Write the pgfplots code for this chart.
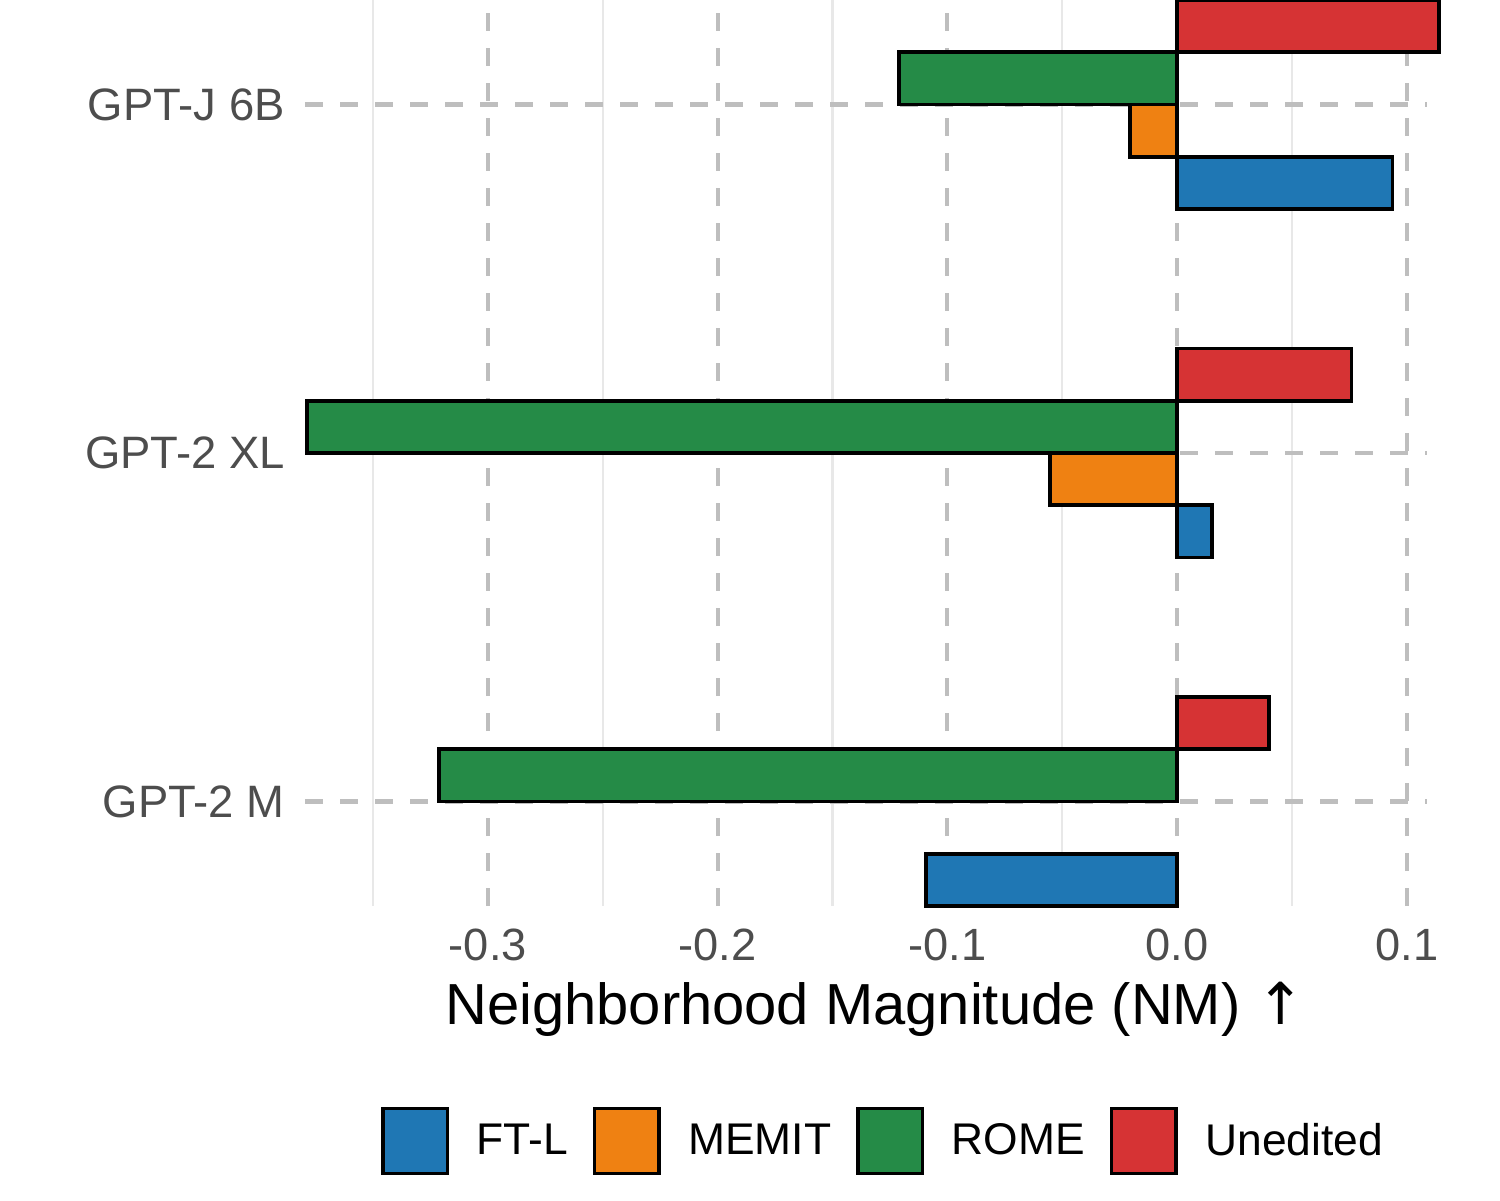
\documentclass[border=0pt]{standalone}
\usepackage{pgfplots}
\pgfplotsset{compat=1.18}
\usepackage{fontspec}
\setmainfont{Liberation Sans}
\newfontfamily\symfont{DejaVu Sans}
\definecolor{cFT}{HTML}{1F77B4}
\definecolor{cME}{HTML}{EF8112}
\definecolor{cRO}{HTML}{258B47}
\definecolor{cUN}{HTML}{D63334}
\definecolor{tickgray}{HTML}{4D4D4D}
\definecolor{majgrid}{HTML}{BEBEBE}
\definecolor{mingrid}{HTML}{E8E8E8}
\begin{document}
\begin{tikzpicture}
\useasboundingbox (0,0) rectangle (720pt,576pt);
\begin{axis}[
  at={(146.4pt,141.12pt)}, anchor=south west,
  scale only axis, width=538.56pt, height=434.88pt,
  xmin=-0.3796, xmax=0.1088, ymin=0.7, ymax=3.3,
  clip=false,
  xbar, bar width=0.15,
  axis line style={draw=none},
  major tick length=0pt, minor tick length=0pt,
  tick style={draw=none},
  xtick={-0.3,-0.2,-0.1,0,0.1},
  xticklabels={-0.3,-0.2,-0.1,0.0,0.1},
  minor xtick={-0.35,-0.25,-0.15,-0.05,0.05},
  ytick={1,2,3},
  yticklabels={GPT-2 M,GPT-2 XL,GPT-J 6B},
  xmajorgrids, xminorgrids, ymajorgrids,
  major grid style={draw=majgrid, line width=2pt, dash pattern=on 8.6pt off 8.2pt},
  minor grid style={draw=mingrid, line width=1pt},
  xticklabel style={font=\fontsize{21.7}{24}\selectfont, text=tickgray, anchor=north, inner sep=0pt, yshift=-10.6pt},
  yticklabel style={font=\fontsize{21.8}{24}\selectfont, text=tickgray, anchor=east, inner sep=0pt, xshift=-9.6pt},
  /pgf/number format/assume math mode=true,
  xlabel={Neighborhood Magnitude (NM) {\symfont ↑}},
  xlabel style={font=\fontsize{27.8}{32}\selectfont, at={(axis description cs:0.5083,-0.1313)}, anchor=base, inner sep=0pt},
  legend columns=4,
  legend style={draw=none, fill=none, inner sep=0pt, outer sep=0pt,
    at={(axis description cs:0.0677,-0.2594)}, anchor=west,
    font=\fontsize{21.3}{24}\selectfont,
    nodes={inner sep=0pt, anchor=west},
    /tikz/every odd column/.append style={column sep=13.2pt},
    /tikz/every even column/.append style={column sep=11.8pt}},
  legend image code/.code={\draw[#1, line width=1.8pt] (0pt,-15.6pt) rectangle (31pt,15.6pt);},
  every axis plot/.append style={draw=black, line width=1.7pt},
]
\addplot[fill=cFT, bar shift=-0.225] coordinates {(-0.1093,1) (0.0153,2) (0.0938,3)};
\addplot[fill=cME, bar shift=-0.075] coordinates {(-0.0553,2) (-0.0206,3)};
\addplot[fill=cRO, bar shift=0.075] coordinates {(-0.3213,1) (-0.3788,2) (-0.1210,3)};
\addplot[fill=cUN, bar shift=0.225] coordinates {(0.0400,1) (0.0760,2) (0.1141,3)};
\legend{FT-L,MEMIT,ROME,Unedited}
\end{axis}
\end{tikzpicture}
\end{document}
